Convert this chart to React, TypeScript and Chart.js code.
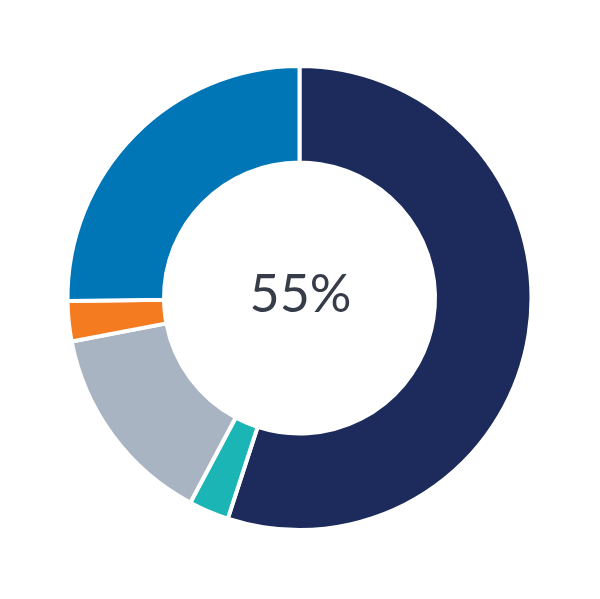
import React, { useEffect, useRef } from "react";
import { Chart, registerables } from "chart.js";

Chart.register(...registerables);

const categories = ["Navy", "Teal", "Gray", "Orange", "Blue"];
const values = [55, 2.8, 14.2, 2.8, 25.2];
const colors = ["#1c2b5b", "#1cb5b5", "#a9b4c3", "#f47b20", "#0076b6"];
const centerLabel = "55%";

const centerTextPlugin = {
  id: "centerText",
  afterDraw(chart: any) {
    const meta = chart.getDatasetMeta(0);
    const arc = meta.data[0];
    if (!arc) return;
    const { x, y } = arc.getProps(["x", "y"], true);
    const ctx = chart.ctx;
    ctx.save();
    ctx.font = "400 52px Lato";
    ctx.fillStyle = "#363d48";
    ctx.textAlign = "center";
    ctx.textBaseline = "middle";
    ctx.fillText(centerLabel, x + 1, y - 3);
    ctx.restore();
  },
};

export default function App() {
  const ref = useRef<HTMLCanvasElement>(null);
  useEffect(() => {
    if (!ref.current) return;
    const chart = new Chart(ref.current, {
      type: "doughnut",
      data: {
        labels: categories,
        datasets: [
          {
            data: values,
            backgroundColor: colors,
            borderColor: "#ffffff",
            borderWidth: 4,
            hoverOffset: 0,
          },
        ],
      },
      options: {
        responsive: false,
        animation: false,
        cutout: "58.4%",
        layout: { padding: { left: 65, right: 66, top: 64, bottom: 67 } },
        plugins: {
          legend: { display: false },
          tooltip: { enabled: false },
        },
      },
      plugins: [centerTextPlugin],
    });
    return () => chart.destroy();
  }, []);
  return (
    <div style={{ position: "absolute", left: 0, top: 0, width: 600, height: 599, background: "#fff" }}>
      <canvas ref={ref} width={600} height={599} style={{ width: 600, height: 599 }} />
    </div>
  );
}
